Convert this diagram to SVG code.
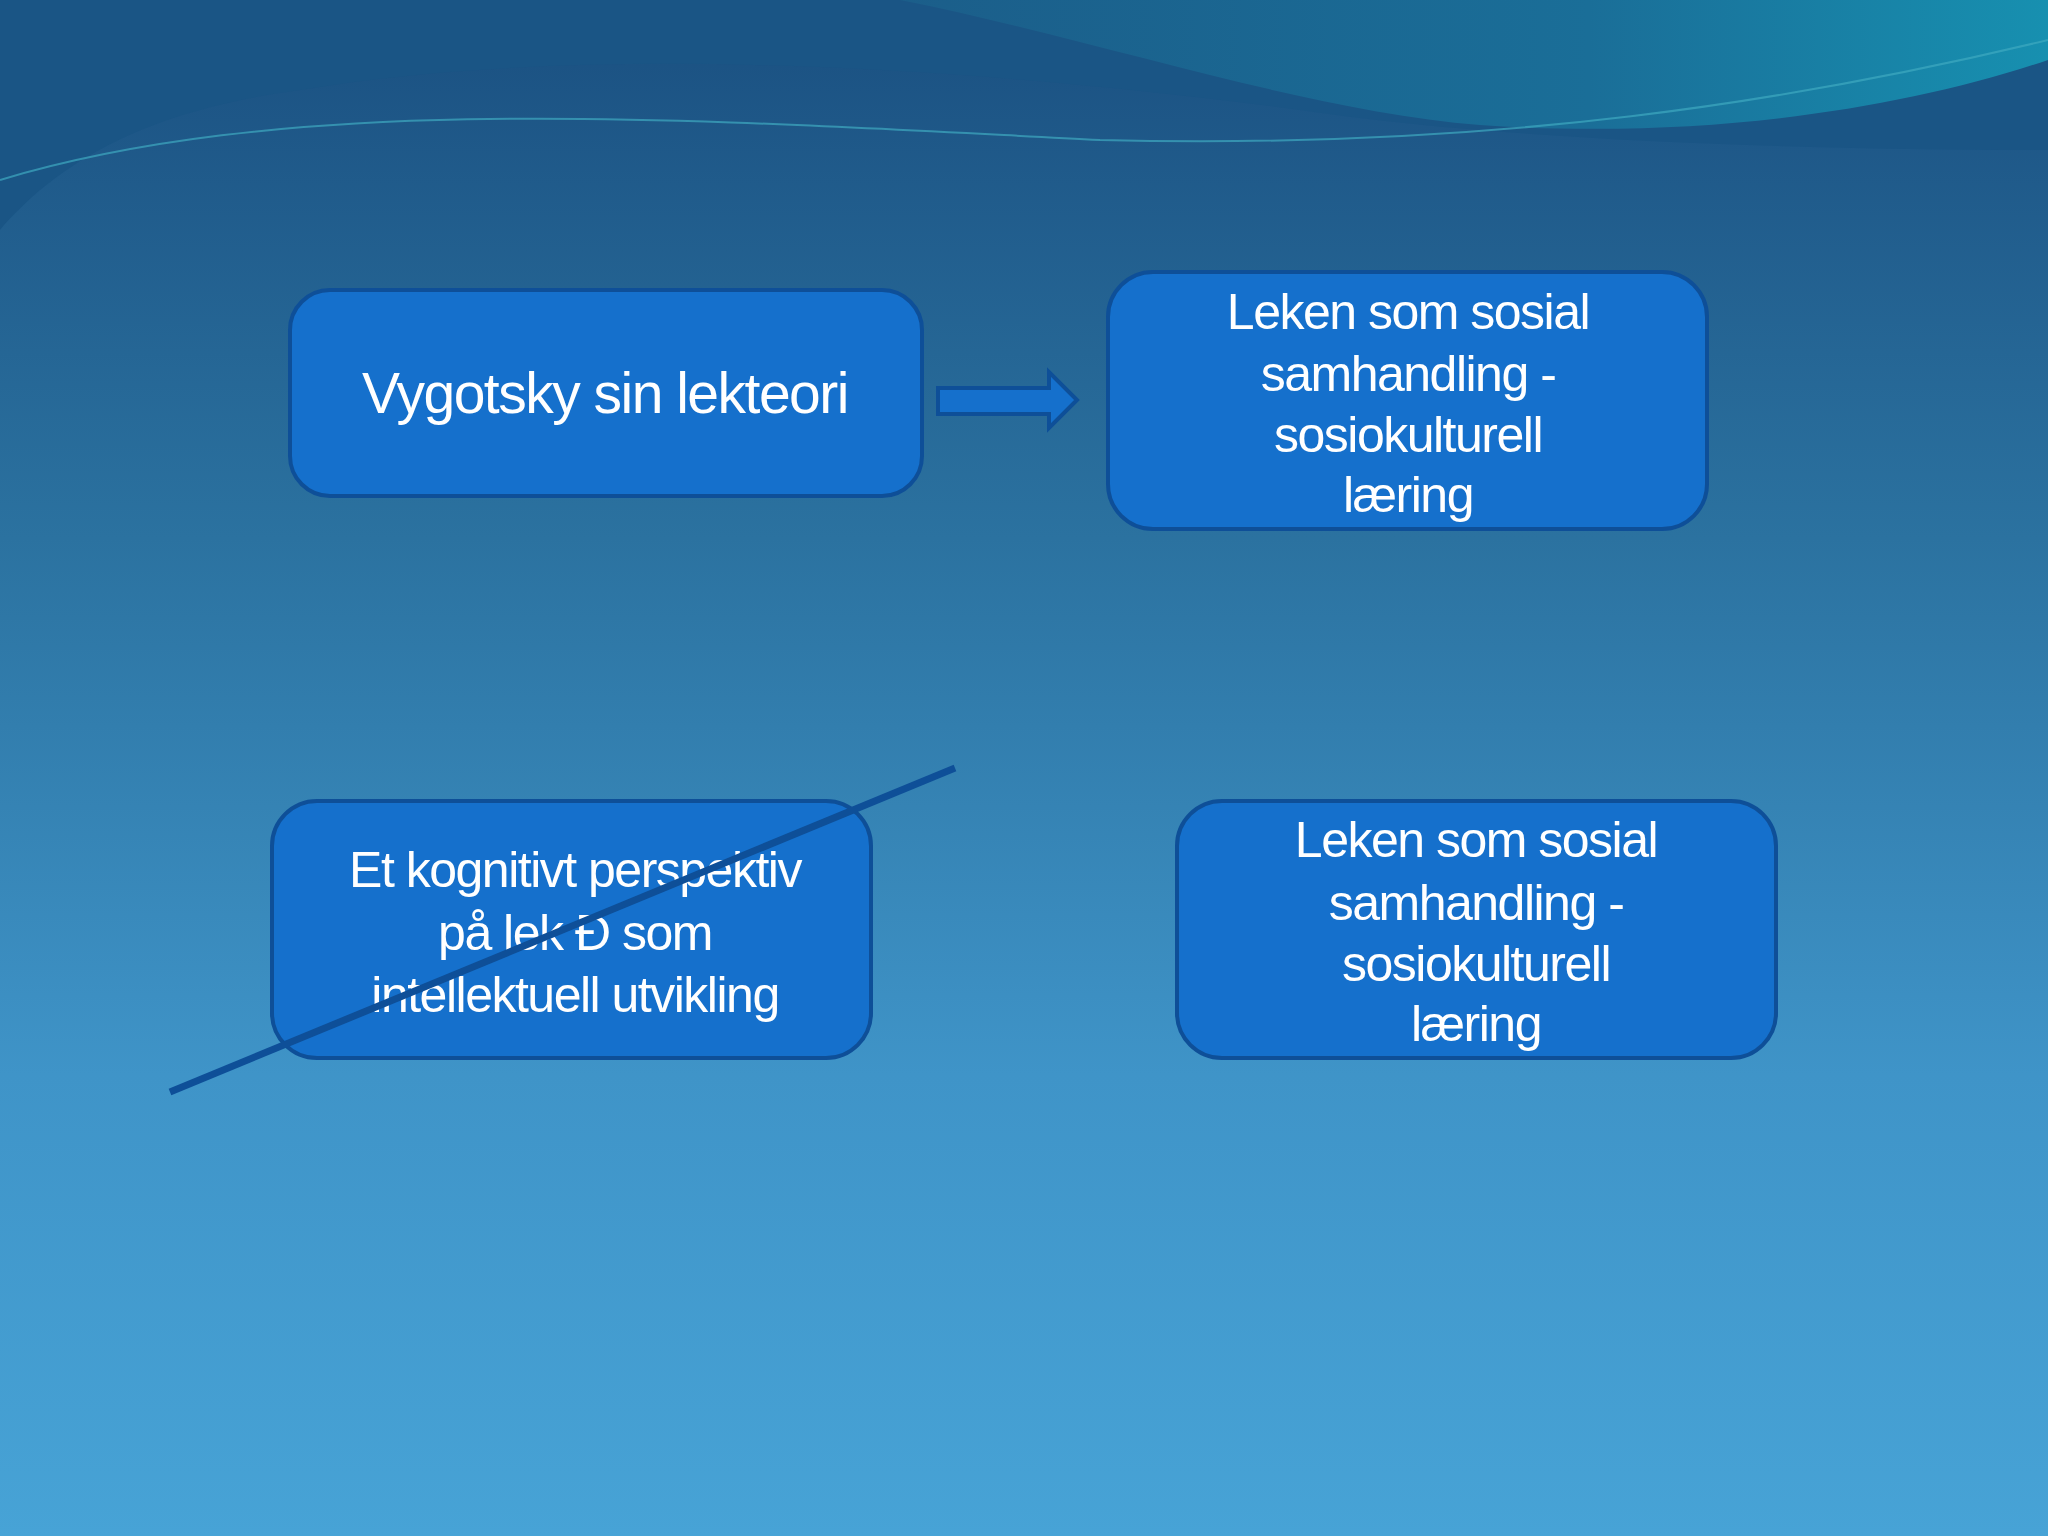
<svg xmlns="http://www.w3.org/2000/svg" width="2048" height="1536" viewBox="0 0 2048 1536">
<defs>
<linearGradient id="bg" x1="0" y1="0" x2="0" y2="1">
<stop offset="0" stop-color="#1A4F80"/><stop offset="0.35" stop-color="#2B72A0"/><stop offset="0.7" stop-color="#3F94C8"/><stop offset="1" stop-color="#47A3D6"/>
</linearGradient>
<linearGradient id="wave" x1="0" y1="0" x2="1" y2="0">
<stop offset="0" stop-color="#1B5E8A"/><stop offset="0.6" stop-color="#1A6E98"/><stop offset="1" stop-color="#1790B0"/>
</linearGradient>
<style>
.box{fill:#1570CC;stroke:#0E4F98;stroke-width:4}
.t{font-family:"Liberation Sans",Arial,sans-serif;fill:#fff;text-anchor:middle;letter-spacing:-1.5px}
</style>
</defs>
<rect width="2048" height="1536" fill="url(#bg)"/>
<path d="M0 0H2048V150C1800 150 1500 140 1300 110C1000 70 600 40 300 90C150 110 60 160 0 230Z" fill="#1A5585"/>
<path d="M900 0H2048V60C1900 110 1700 140 1480 125C1300 110 1100 40 900 0Z" fill="url(#wave)"/>
<path d="M0 180C300 90 700 120 1100 140C1500 150 1800 100 2048 40" fill="none" stroke="#3FA9C0" stroke-width="2" opacity="0.7"/>
<g id="n1"><rect class="box" x="290" y="290" width="632" height="206" rx="40"/><text class="t" x="605" y="413" font-size="57">Vygotsky sin lekteori</text></g>
<g id="n2"><rect class="box" x="1108" y="272" width="599" height="257" rx="45"/>
<text class="t" x="1408" y="329" font-size="50">Leken som sosial</text><text class="t" x="1408" y="391" font-size="50">samhandling -</text><text class="t" x="1408" y="452" font-size="50">sosiokulturell</text><text class="t" x="1408" y="512" font-size="50">læring</text></g>
<g id="n3"><rect class="box" x="272" y="801" width="599" height="257" rx="45"/>
<text class="t" x="575" y="887" font-size="50">Et kognitivt perspektiv</text><text class="t" x="575" y="950" font-size="50">på lek Ð som</text><text class="t" x="575" y="1012" font-size="50">intellektuell utvikling</text></g>
<g id="n4"><rect class="box" x="1177" y="801" width="599" height="257" rx="45"/>
<text class="t" x="1476" y="857" font-size="50">Leken som sosial</text><text class="t" x="1476" y="920" font-size="50">samhandling -</text><text class="t" x="1476" y="981" font-size="50">sosiokulturell</text><text class="t" x="1476" y="1041" font-size="50">læring</text></g>
<g id="connectors">
<path d="M938 388H1049V372L1077 400L1049 428V414H938Z" fill="#1570CC" stroke="#0E4F98" stroke-width="4"/>
<line x1="170" y1="1092" x2="955" y2="768" stroke="#0E4F98" stroke-width="7"/>
</g>
</svg>
